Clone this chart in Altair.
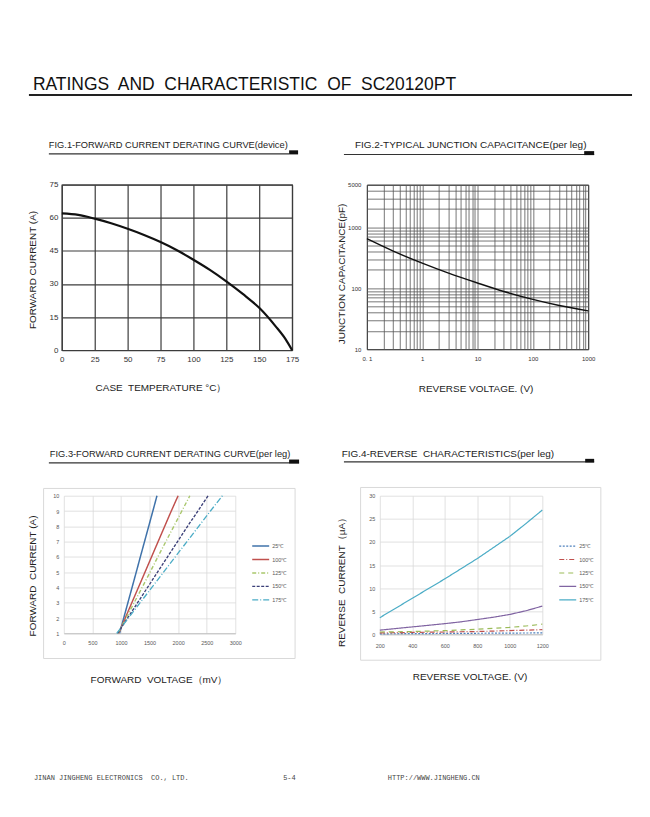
import altair as alt
import pandas as pd

FONT = "Liberation Sans"
MONO = "Liberation Mono"

# ---------------- data ----------------
page_title = "RATINGS\u00a0 AND\u00a0 CHARACTERISTIC\u00a0 OF\u00a0 SC20120PT"
footer_left = "JINAN JINGHENG ELECTRONICS\u00a0 CO., LTD."
footer_mid = "5-4"
footer_right = "HTTP://WWW.JINGHENG.CN"

fig1_title = "FIG.1-FORWARD CURRENT DERATING CURVE(device)"
fig1_temp = [0, 12.5, 25, 37.5, 50, 62.5, 75, 87.5, 100, 112.5, 125, 137.5, 150, 162.5, 170, 175]
fig1_current = [62, 61.3, 59.6, 57.5, 55, 52.2, 49, 45.3, 41, 36.4, 31.2, 25.5, 19.2, 10.8, 5, 0]
fig1_xticks = [0, 25, 50, 75, 100, 125, 150, 175]
fig1_yticks = [0, 15, 30, 45, 60, 75]

fig2_title = "FIG.2-TYPICAL JUNCTION CAPACITANCE(per leg)"
fig2_voltage = [0.1, 0.3, 1, 3, 10, 30, 100, 300, 1000]
fig2_cap = [650, 406, 258, 177, 122, 88.5, 65.5, 52, 42.5]
fig2_xgrid = [0.1, 0.2, 0.3, 0.4, 0.5, 0.6, 0.7, 0.8, 0.9,
              1, 2, 3, 4, 5, 6, 7, 8, 9,
              10, 20, 30, 40, 50, 60, 70, 80, 90,
              100, 200, 300, 400, 500, 600, 700, 800, 900, 1000]
fig2_ygrid = [10, 20, 30, 40, 50, 60, 70, 80, 90,
              100, 200, 300, 400, 500, 600, 700, 800, 900,
              1000, 2000, 3000, 4000, 5000]

fig3_title = "FIG.3-FORWARD CURRENT DERATING CURVE(per leg)"
fig3_series = ["25\u2103", "100\u2103", "125\u2103", "150\u2103", "175\u2103"]
fig3_current = [1, 2, 3, 4, 5, 6, 7, 8, 9, 10]
fig3_v25 = [975, 1048, 1121, 1194, 1267, 1339, 1412, 1485, 1558, 1630]
fig3_v100 = [960, 1075, 1190, 1305, 1420, 1535, 1650, 1765, 1880, 2000]
fig3_v125 = [950, 1090, 1230, 1370, 1510, 1645, 1785, 1925, 2065, 2205]
fig3_v150 = [940, 1115, 1290, 1465, 1640, 1815, 1990, 2165, 2345, 2525]
fig3_v175 = [925, 1130, 1335, 1540, 1745, 1950, 2155, 2360, 2565, 2775]
fig3_xticks = [0, 500, 1000, 1500, 2000, 2500, 3000]
fig3_yticks = [1, 2, 3, 4, 5, 6, 7, 8, 9, 10]

fig4_title = "FIG.4-REVERSE\u00a0 CHARACTERISTICS(per leg)"
fig4_series = ["25\u2103", "100\u2103", "125\u2103", "150\u2103", "175\u2103"]
fig4_voltage = [200, 300, 400, 500, 600, 700, 800, 900, 1000, 1100, 1200]
fig4_i25 = [0.1, 0.12, 0.14, 0.16, 0.18, 0.2, 0.22, 0.24, 0.26, 0.28, 0.3]
fig4_i100 = [0.3, 0.35, 0.4, 0.45, 0.5, 0.55, 0.6, 0.7, 0.8, 0.9, 1.0]
fig4_i125 = [0.5, 0.55, 0.6, 0.7, 0.8, 0.95, 1.1, 1.3, 1.5, 1.8, 2.2]
fig4_i150 = [0.9, 1.25, 1.6, 1.95, 2.3, 2.7, 3.2, 3.7, 4.3, 5.1, 6.1]
fig4_i175 = [3.6, 5.7, 7.8, 9.9, 12.0, 14.2, 16.4, 18.8, 21.2, 24.0, 26.9]
fig4_xticks = [200, 400, 600, 800, 1000, 1200]
fig4_yticks = [0, 5, 10, 15, 20, 25, 30]

# ---------------- helpers ----------------
one = pd.DataFrame({"k": [0]})


def text_at(txt, x, y, size, font=FONT, color="#222222"):
    return alt.Chart(one).mark_text(
        text=txt, align="left", baseline="alphabetic", fontSize=size,
        font=font, color=color
    ).encode(x=alt.value(x), y=alt.value(y))


def hline(x1, x2, y, w=1.2, color="#333333"):
    return alt.Chart(one).mark_rule(color=color, strokeWidth=w).encode(
        x=alt.value(x1), x2=alt.value(x2), y=alt.value(y))


def block(x1, x2, y1, y2, color="#111111"):
    return alt.Chart(one).mark_rect(color=color).encode(
        x=alt.value(x1), x2=alt.value(x2), y=alt.value(y1), y2=alt.value(y2))


def frame(x1, x2, y1, y2, color="#d9d9d9"):
    return alt.Chart(one).mark_rect(fillOpacity=0, stroke=color, strokeWidth=1).encode(
        x=alt.value(x1), x2=alt.value(x2), y=alt.value(y1), y2=alt.value(y2))


def spacer(w):
    return alt.Chart(one).mark_point(opacity=0).encode(
        x=alt.value(0), y=alt.value(0)).properties(width=w, height=10)


def fig_heading(title, tx, ty, lx1, lx2, ly, bx1, bx2, by1, size=9.3):
    return [text_at(title, tx, ty, size),
            hline(lx1, lx2, ly),
            block(bx1, bx2, by1, ly + 0.6)]


def legend_at(lx, ly):
    return alt.Legend(orient="none", legendX=lx, legendY=ly, symbolType="stroke", symbolSize=289,
                      symbolStrokeWidth=1.2, labelFontSize=5.5, labelColor="#595959", labelFont=FONT,
                      clipHeight=11, rowPadding=2.5, labelOffset=2, padding=0)


# ---------------- Fig.1 ----------------
df1 = pd.DataFrame({"t": fig1_temp, "i": fig1_current})
W1, H1 = 231, 166
ax1 = dict(grid=True, gridColor="#3c3c3c", gridWidth=1.2, domain=False, ticks=False,
           labelFontSize=8, labelColor="#333333", labelFont=FONT, labelFlush=False,
           titleFontSize=10, titleFontWeight="normal", titleColor="#222222", titleFont=FONT,
           titleBaseline="alphabetic", titleAlign="center")
line1 = alt.Chart(df1).mark_line(color="#111111", strokeWidth=2.2, interpolate="monotone").encode(
    x=alt.X("t:Q", scale=alt.Scale(domain=[0, 175], nice=False, zero=False),
            axis=alt.Axis(values=fig1_xticks, labelPadding=5, title="CASE\u00a0 TEMPERATURE \u00b0C\uff09",
                          titleX=99, titleY=40, **ax1)),
    y=alt.Y("i:Q", scale=alt.Scale(domain=[0, 75], nice=False),
            axis=alt.Axis(values=fig1_yticks, labelPadding=4, title="FORWARD CURRENT (A)",
                          titleAngle=270, titleX=-26, titleY=85, **ax1)),
)
page_rect = alt.Chart(one).mark_rect(opacity=0).encode(
    x=alt.value(-53), x2=alt.value(581), y=alt.value(-175), y2=alt.value(626))
fig1 = alt.layer(
    page_rect,
    line1,
    text_at(page_title, -29, -95, 17.5, color="#111111"),
    hline(-33, 572, -90, w=2, color="#222222"),
    *fig_heading(fig1_title, -13, -37, -13, 228, -31, 228, 237, -34.5),
).properties(width=W1, height=H1, view=alt.ViewBackground(stroke="#333333", strokeWidth=1.2))

# ---------------- Fig.2 ----------------
df2 = pd.DataFrame({"v": fig2_voltage, "c": fig2_cap})
W2, H2 = 222, 165
ax2 = dict(grid=True, gridColor="#555555", gridWidth=0.8, domain=False, ticks=False,
           labelFontSize=6, labelColor="#333333", labelFont=FONT, labelFlush=False,
           labelOverlap=False,
           titleFontSize=10, titleFontWeight="normal", titleColor="#222222", titleFont=FONT,
           titleBaseline="alphabetic", titleAlign="center")
line2 = alt.Chart(df2).mark_line(color="#111111", strokeWidth=1.4, interpolate="monotone").encode(
    x=alt.X("v:Q", scale=alt.Scale(type="log", domain=[0.1, 1000], nice=False),
            axis=alt.Axis(values=fig2_xgrid, labelPadding=6,
                          labelExpr="datum.value == 0.1 ? '0. 1' : (datum.value == 1 || datum.value == 10 || datum.value == 100 || datum.value == 1000) ? format(datum.value, 'd') : ''",
                          title="REVERSE VOLTAGE. (V)", titleX=109, titleY=42, **ax2)),
    y=alt.Y("c:Q", scale=alt.Scale(type="log", domain=[10, 5000], nice=False),
            axis=alt.Axis(values=fig2_ygrid, labelPadding=6,
                          labelExpr="(datum.value == 10 || datum.value == 100 || datum.value == 1000 || datum.value == 5000) ? format(datum.value, 'd') : ''",
                          title="JUNCTION CAPACITANCE(pF)", titleAngle=270, titleX=-22, titleY=89, **ax2)),
)
fig2 = alt.layer(
    line2,
    *fig_heading(fig2_title, -12, -37, -23, 228, -30.3, 218, 228, -33.7, size=10),
).properties(width=W2, height=H2, view=alt.ViewBackground(stroke="#111111", strokeWidth=1))

# ---------------- Fig.3 ----------------
rows3 = []
for name, vals in zip(fig3_series, [fig3_v25, fig3_v100, fig3_v125, fig3_v150, fig3_v175]):
    for cur, v in zip(fig3_current, vals):
        rows3.append({"s": name, "v": v, "i": cur})
df3 = pd.DataFrame(rows3)
W3, H3 = 174, 138
X3 = 2  # plot starts 2px inside the panel
ax34 = dict(grid=True, gridColor="#d9d9d9", gridWidth=0.8, ticks=False, format="d",
            labelFontSize=5.5, labelColor="#595959", labelFont=FONT, labelFlush=False,
            titleFontSize=10, titleFontWeight="normal", titleColor="#222222", titleFont=FONT,
            titleBaseline="alphabetic", titleAlign="center")

leg3 = legend_at(190, 45)
line3 = alt.Chart(df3).mark_line().encode(
    x=alt.X("v:Q", scale=alt.Scale(domain=[0, 3000], nice=False, range=[X3, W3]),
            axis=alt.Axis(values=fig3_xticks, labelPadding=7, domain=True, domainColor="#bfbfbf",
                          title="FORWARD\u00a0 VOLTAGE\uff08mV\uff09", titleX=97, titleY=49, **ax34)),
    y=alt.Y("i:Q", scale=alt.Scale(domain=[1, 10], nice=False, zero=False),
            axis=alt.Axis(values=fig3_yticks, labelPadding=5, domain=False, offset=-X3,
                          title="FORWARD\u00a0 CURRENT (A)", titleAngle=270, titleX=-28, titleY=80, **ax34)),
    color=alt.Color("s:N", title=None,
                    scale=alt.Scale(domain=fig3_series,
                                    range=["#3f72aa", "#c0504d", "#a9c76c", "#3b3f78", "#4bacc6"]),
                    legend=leg3),
    strokeDash=alt.StrokeDash("s:N", title=None,
                              scale=alt.Scale(domain=fig3_series,
                                              range=[[1, 0], [1, 0], [4, 2, 1, 2], [3, 1.5], [6, 2, 1, 2]]),
                              legend=leg3),
    strokeWidth=alt.StrokeWidth("s:O", scale=alt.Scale(domain=fig3_series, range=[1.5, 1.3, 1.2, 1.2, 1.2]),
                                legend=None),
)
fig3 = alt.layer(
    frame(-18.3, 234, -7.3, 163.3),
    line3,
    *fig_heading(fig3_title, -12, -39.3, -13, 238, -33, 228, 238, -36.3),
    text_at(footer_left, -28, 285, 7, font=MONO, color="#444444"),
    text_at(footer_mid, 222, 285, 7, font=MONO, color="#444444"),
    text_at(footer_right, 327, 285, 7, font=MONO, color="#444444"),
).properties(width=W3, height=H3)

# ---------------- Fig.4 ----------------
rows4 = []
for name, vals in zip(fig4_series, [fig4_i25, fig4_i100, fig4_i125, fig4_i150, fig4_i175]):
    for v, cur in zip(fig4_voltage, vals):
        rows4.append({"s": name, "v": v, "i": cur})
df4 = pd.DataFrame(rows4)
X4 = 13  # plot starts 13px inside the panel
W4, H4 = 163 + X4, 139
leg4 = legend_at(179 + X4, 45)
line4 = alt.Chart(df4).mark_line().encode(
    x=alt.X("v:Q", scale=alt.Scale(domain=[200, 1200], nice=False, zero=False, range=[X4, W4]),
            axis=alt.Axis(values=fig4_xticks, labelPadding=9, domain=True, domainColor="#bfbfbf",
                          title="REVERSE VOLTAGE. (V)", titleX=90 + X4, titleY=45, **ax34)),
    y=alt.Y("i:Q", scale=alt.Scale(domain=[0, 30], nice=False),
            axis=alt.Axis(values=fig4_yticks, labelPadding=5, domain=False, offset=-X4,
                          title="REVERSE\u00a0 CURRENT\uff08\u03bcA\uff09", titleAngle=270, titleX=-35, titleY=84, **ax34)),
    color=alt.Color("s:N", title=None,
                    scale=alt.Scale(domain=fig4_series,
                                    range=["#4f81bd", "#c0504d", "#9bbb59", "#8064a2", "#4bacc6"]),
                    legend=leg4),
    strokeDash=alt.StrokeDash("s:N", title=None,
                              scale=alt.Scale(domain=fig4_series,
                                              range=[[2, 1.5], [5, 2, 1, 2], [5, 4], [1, 0], [1, 0]]),
                              legend=leg4),
    strokeWidth=alt.StrokeWidth("s:O", scale=alt.Scale(domain=fig4_series, range=[1.2, 1.2, 2, 1.5, 1.5]),
                                legend=None),
)
fig4 = alt.layer(
    frame(-19.3 + X4, 221.7 + X4, -8.3, 165),
    line4,
    *fig_heading(fig4_title, -38.3 + X4, -39.3, -36 + X4, 215 + X4, -34, 206 + X4, 215 + X4, -37, size=10),
).properties(width=W4, height=H4)

# ---------------- page ----------------
chart = alt.concat(
    fig1, spacer(75), fig2,
    fig3, spacer(75), fig4,
    columns=3,
).properties(
    bounds="flush",
    spacing=alt.RowColnumber(row=146, column=0),
    align="each",
    padding=0,
).resolve_scale(
    color="independent", strokeDash="independent", strokeWidth="independent"
).resolve_legend(
    color="independent", strokeDash="independent"
).configure(font=FONT).configure_view(stroke=None)

chart.save("out.html", embed_options={"renderer": "svg", "actions": False})
